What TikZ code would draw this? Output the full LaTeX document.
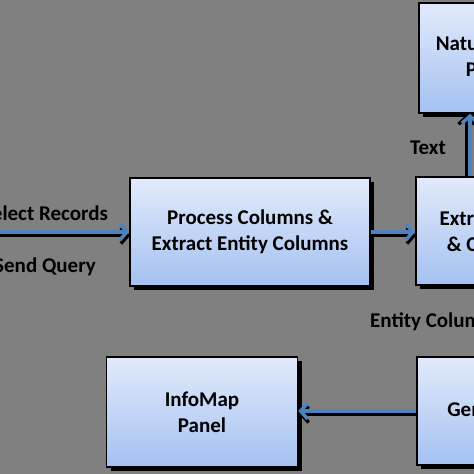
\documentclass[tikz,border=0pt]{standalone}
\usepackage{fontspec}
\setmainfont{Carlito}
\usetikzlibrary{arrows.meta}
\usetikzlibrary{shadows}
\definecolor{panelgray}{RGB}{128,128,128}
\definecolor{boxtop}{RGB}{226,234,251}
\definecolor{boxbottom}{RGB}{164,193,241}
\definecolor{flowblue}{RGB}{79,129,189}

\begin{document}
\begin{tikzpicture}[
    x=1pt, y=-1pt,
    every node/.style={font=\fontsize{21}{26}\selectfont\bfseries},
    stage/.style={rectangle, draw=black, line width=1.6pt, top color=boxtop, bottom color=boxbottom,
        align=center, minimum height=108,
        drop shadow={shadow xshift=4pt, shadow yshift=-4pt, fill=black, opacity=1}},
    flowline/.style={line width=3.5pt, -{Straight Barb[length=7pt, width=16pt]}},
    flow/.style={flowline, draw=flowblue},
    shade below/.style={flowline, draw=black, transform canvas={xshift=1pt, yshift=-3.5pt}},
    shade left/.style={flowline, draw=black, transform canvas={xshift=-3.5pt, yshift=-1pt}},
    tag/.style={inner sep=0},
    ]

    \useasboundingbox (0,0) rectangle (474,474);
    \fill [panelgray] (0,0) rectangle (474,474);
    \clip (0,0) rectangle (474,474);

    \node (proc) [stage, minimum width=240] at (250,232) {Process Columns \&\\Extract Entity Columns};
    \node (extr) [stage, minimum width=186] at (509,231) {Extract Location\\\& Coordinates};
    \node (nlp) [stage, minimum width=186, minimum height=110] at (512,58) {Natural Language\\Processing};
    \node (info) [stage, minimum width=191, minimum height=110] at (202,412) {InfoMap\\Panel};
    \node (gen) [stage, minimum width=186] at (510,411) {Generate Map};

    \coordinate (src) at (-10,232);
    \node (select) [tag] at (45,213) {Select Records};
    \node (send) [tag] at (45,267) {Send Query};
    \node (textlbl) [tag] at (428,148) {Text};
    \node (entity) [tag, anchor=west] at (370,322) {Entity Columns};

    % shadows first, then the blue connectors
    \draw [shade below] (src) -- (proc.west);
    \draw [shade below] (proc.east) -- (proc.east -| extr.west);
    \draw [shade left] ([xshift=-39pt]extr.north) -- ([xshift=-39pt]extr.north |- nlp.south);
    \draw [shade below] (gen.west) -- (gen.west -| info.east);

    \draw [flow] (src) -- (proc.west);
    \draw [flow] (proc.east) -- (proc.east -| extr.west);
    \draw [flow] ([xshift=-39pt]extr.north) -- ([xshift=-39pt]extr.north |- nlp.south);
    \draw [flow] (gen.west) -- (gen.west -| info.east);
\end{tikzpicture}
\end{document}
